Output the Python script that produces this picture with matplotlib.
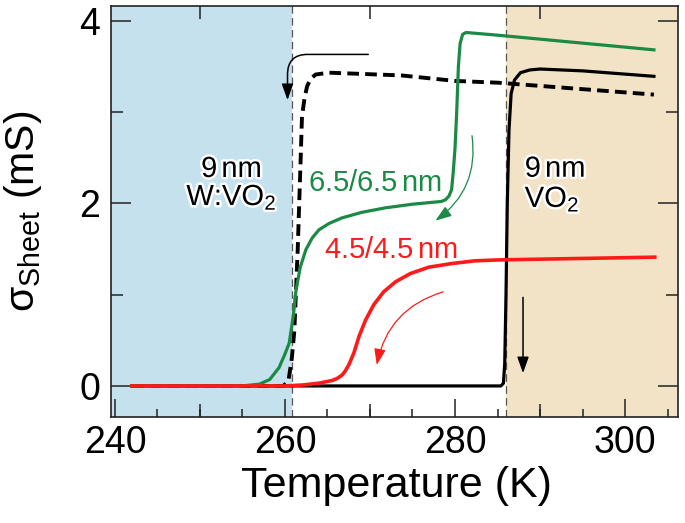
import matplotlib
matplotlib.use("Agg")
import matplotlib.pyplot as plt
from matplotlib.patches import FancyArrowPatch
from matplotlib.ticker import MultipleLocator
import matplotlib.patheffects as pe

plt.rcParams['font.family'] = ['Liberation Sans', 'DejaVu Sans']
plt.rcParams['mathtext.fontset'] = 'custom'
plt.rcParams['mathtext.rm'] = 'Liberation Sans'
plt.rcParams['mathtext.it'] = 'Liberation Sans:italic'
plt.rcParams['mathtext.bf'] = 'Liberation Sans:bold'

# ---------------- data ----------------
# 9 nm VO2 (black solid)
vo2_T = [242, 285.4, 285.7, 285.85, 286.0, 286.15, 286.35, 286.6, 287.0, 287.7, 288.8, 290.0, 295.0, 303.4]
vo2_S = [0, 0, 0.03, 0.25, 1.0, 2.0, 2.8, 3.2, 3.35, 3.43, 3.46, 3.47, 3.45, 3.39]

# 9 nm W:VO2 (black dashed)
wvo2_T = [242, 259.8, 260.4, 260.8, 261.1, 261.5, 261.85, 262.0, 262.3, 262.6, 263.0, 263.6, 265.2, 273.7, 280.0, 285.1, 303.4]
wvo2_S = [0, 0, 0.05, 0.3, 0.6, 1.5, 2.5, 2.95, 3.15, 3.28, 3.36, 3.41, 3.43, 3.40, 3.34, 3.32, 3.19]

# 6.5/6.5 nm bilayer (green)
g_T = [242, 255, 257, 258.2, 259.3, 260.0, 260.5, 261.0, 261.3, 261.8, 262.45, 263.2, 264.0, 265.2, 266.7, 269.0,
       271.8, 275.0, 278.4, 278.9, 279.3, 279.6, 279.8, 280.0, 280.2, 280.4, 280.6, 280.9, 281.3, 285.1, 303.4]
g_S = [0, 0.0, 0.02, 0.07, 0.2, 0.35, 0.47, 0.78, 1.05, 1.3, 1.49, 1.62, 1.71, 1.78, 1.84, 1.9,
       1.95, 1.99, 2.02, 2.04, 2.08, 2.15, 2.35, 2.6, 3.0, 3.5, 3.75, 3.85, 3.87, 3.84, 3.68]

# 4.5/4.5 nm bilayer (red)
r_T = [242, 260, 262, 264.0, 265.56, 266.2, 266.73, 267.1, 267.5, 268.1, 268.7, 269.47, 270.45, 271.6, 273.0,
       274.74, 276.9, 279.6, 282.35, 285.1, 303.5]
r_S = [0, 0.0, 0.01, 0.03, 0.06, 0.085, 0.12, 0.165, 0.23, 0.36, 0.54, 0.72, 0.89, 1.03, 1.14,
       1.23, 1.30, 1.34, 1.37, 1.38, 1.41]

# transition boundaries (K)
T_wvo2 = 260.8
T_vo2 = 286.0

x_lim = (239.5, 306.2)
y_lim = (-0.34, 4.16)
x_major = [240, 260, 280, 300]
x_mid = [250, 270, 290]
y_major = [0, 2, 4]

# ---------------- figure ----------------
fig = plt.figure(figsize=(6.85, 5.23), dpi=100)
ax = fig.add_axes([0.1616, 0.2027, 0.8278, 0.7858])
ax.set_xlim(*x_lim)
ax.set_ylim(*y_lim)

ax.axvspan(x_lim[0], T_wvo2, color='#c5e1ed', lw=0, zorder=0)
ax.axvspan(T_vo2, x_lim[1], color='#f3e3c6', lw=0, zorder=0)
for t in (T_wvo2, T_vo2):
    ax.axvline(t, color='#555555', lw=0.9, ls=(0, (6, 3.5)), zorder=1)

ax.plot(wvo2_T, wvo2_S, color='black', lw=2.8, ls=(0, (3, 1.6)), zorder=3)
ax.plot(vo2_T, vo2_S, color='black', lw=2.3, zorder=4)
ax.plot(g_T, g_S, color='#1a8a45', lw=2.3, zorder=5)
ax.plot(r_T, r_S, color='#ff1a1a', lw=2.6, zorder=6)

# arrows
def arrow(p0, p1, color, lw, cs):
    a = FancyArrowPatch(p0, p1, arrowstyle='-|>,head_length=0.7,head_width=0.25',
                        mutation_scale=14, color=color, lw=lw, connectionstyle=cs,
                        shrinkA=0, shrinkB=0, zorder=7)
    ax.add_patch(a)

arrow((269.8, 3.63), (260.3, 3.13), 'black', 1.1, 'angle,angleA=0,angleB=90,rad=20')
arrow((282.0, 2.74), (277.7, 1.81), '#1a8a45', 0.9, 'arc3,rad=-0.3')
arrow((278.6, 1.03), (270.8, 0.23), '#ff1a1a', 0.9, 'arc3,rad=0.3')
arrow((288.0, 0.97), (288.0, 0.14), 'black', 1.1, 'arc3,rad=0')

# texts
stroke = [pe.withStroke(linewidth=3.5, foreground='white')]
fs_ann = 21
nm = r'$\,$nm'
ax.text(253.7, 2.287, '9' + nm, ha='center', va='baseline', fontsize=fs_ann, color='black', path_effects=stroke, zorder=8)
ax.text(253.7, 1.98, 'W:VO$_2$', ha='center', va='baseline', fontsize=fs_ann, color='black', path_effects=stroke, zorder=8)
ax.text(288.2, 2.29, '9' + nm, ha='left', va='baseline', fontsize=fs_ann, color='black', path_effects=stroke, zorder=8)
ax.text(288.2, 1.96, 'VO$_2$', ha='left', va='baseline', fontsize=fs_ann, color='black', path_effects=stroke, zorder=8)
ax.text(270.6, 2.13, '6.5/6.5' + nm, ha='center', va='baseline', fontsize=fs_ann, color='#1a8a45', zorder=8)
ax.text(272.5, 1.40, '4.5/4.5' + nm, ha='center', va='baseline', fontsize=fs_ann, color='#ff1a1a', zorder=8)

# ticks
ax.set_xticks(x_major)
ax.xaxis.set_minor_locator(MultipleLocator(5))
ax.set_yticks(y_major)
ax.yaxis.set_minor_locator(MultipleLocator(1))
ax.tick_params(which='major', axis='x', direction='in', length=13, width=1.1, top=True, bottom=True,
               labelsize=27, pad=5.5, color='#222222')
ax.tick_params(which='minor', axis='x', direction='in', length=5.8, width=1.1, top=True, bottom=True, color='#222222')
ax.tick_params(which='major', axis='y', direction='in', length=14.4, width=1.1, left=True, right=True,
               labelsize=27, pad=7.7, color='#222222')
ax.tick_params(which='minor', axis='y', direction='in', length=8.6, width=1.1, left=True, right=True, color='#222222')

ax2 = ax.twiny()
ax2.set_xlim(*x_lim)
ax2.set_xticks(x_mid)
ax2.tick_params(axis='x', direction='in', length=9.4, width=1.1, top=True, bottom=True,
                labeltop=False, labelbottom=False, color='#222222')
for s in ax2.spines.values():
    s.set_visible(False)

for s in ax.spines.values():
    s.set_linewidth(1.2)
    s.set_color('#222222')

ax.set_xlabel('Temperature (K)', fontsize=31)
ax.set_ylabel(r'σ$_{\mathrm{Sheet}}$ (mS)', fontsize=29.5)
ax.xaxis.set_label_coords(0.504, -0.12)
ax.yaxis.set_label_coords(-0.118, 0.5)

fig.savefig('out.png', dpi=100)
